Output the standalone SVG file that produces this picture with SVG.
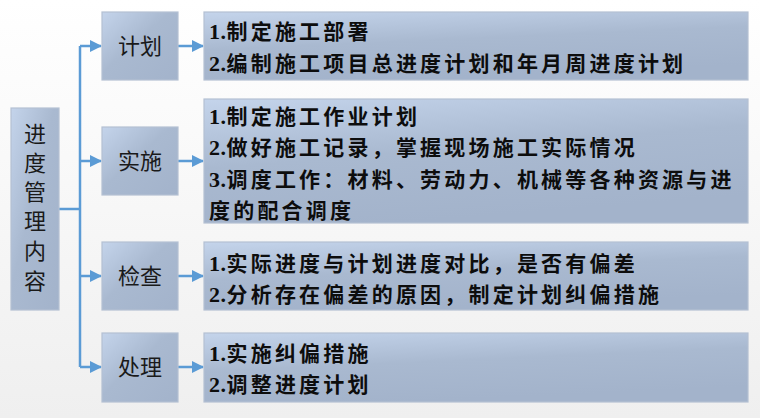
<svg xmlns="http://www.w3.org/2000/svg" width="760" height="418" viewBox="0 0 760 418">
<defs>
<linearGradient id="bg" x1="0" y1="0" x2="0" y2="1"><stop offset="0" stop-color="#ffffff"/><stop offset="1" stop-color="#efefef"/></linearGradient>
<linearGradient id="box" x1="0" y1="0" x2="1" y2="1"><stop offset="0" stop-color="#c4d4eb"/><stop offset="0.45" stop-color="#a9b9d0"/><stop offset="1" stop-color="#a3b3cb"/></linearGradient>
<linearGradient id="wide" x1="0" y1="0" x2="0.35" y2="1"><stop offset="0" stop-color="#c4d4eb"/><stop offset="0.5" stop-color="#a9b9d0"/><stop offset="1" stop-color="#a3b3cb"/></linearGradient>
<marker id="ah" markerWidth="12" markerHeight="12" refX="11" refY="6" orient="auto" markerUnits="userSpaceOnUse"><path d="M0,0 L12,6 L0,12 Z" fill="#5b9bd5"/></marker>
<style>
.b{fill:url(#box);stroke:#b4c0d2;stroke-width:1.2}
.w{fill:url(#wide);stroke:#b4c0d2;stroke-width:1.2}
.c{fill:none;stroke:#5b9bd5;stroke-width:2.5}
.t{font-family:"Liberation Serif","Noto Sans CJK SC",serif;font-size:21px;font-weight:bold;fill:#0d0d0d;letter-spacing:3.2px}
.n{letter-spacing:0.5px;font-size:22px}
.m{font-family:"Noto Sans CJK SC",serif;font-size:22px;fill:#1a1a1a;text-anchor:middle}
</style>
</defs>
<rect width="760" height="418" fill="url(#bg)"/>
<g id="connectors">
<path class="c" d="M59,209 H80"/>
<path class="c" d="M80,46 V367"/>
<path class="c" d="M80,46 H101" marker-end="url(#ah)"/>
<path class="c" d="M80,161 H101" marker-end="url(#ah)"/>
<path class="c" d="M80,276 H101" marker-end="url(#ah)"/>
<path class="c" d="M80,367 H101" marker-end="url(#ah)"/>
<path class="c" d="M178,46 H203" marker-end="url(#ah)"/>
<path class="c" d="M178,161 H203" marker-end="url(#ah)"/>
<path class="c" d="M178,276 H203" marker-end="url(#ah)"/>
<path class="c" d="M178,367 H203" marker-end="url(#ah)"/>
</g>
<g id="root">
<rect class="b" x="11" y="108" width="48" height="202"/>
<text class="m" x="35" y="142">进</text>
<text class="m" x="35" y="171">度</text>
<text class="m" x="35" y="200">管</text>
<text class="m" x="35" y="229">理</text>
<text class="m" x="35" y="259">内</text>
<text class="m" x="35" y="289">容</text>
</g>
<g id="plan">
<rect class="b" x="102" y="12" width="76" height="68"/>
<text class="m" x="140" y="54">计划</text>
</g>
<g id="implement">
<rect class="b" x="102" y="127" width="76" height="68"/>
<text class="m" x="140" y="169">实施</text>
</g>
<g id="check">
<rect class="b" x="102" y="242" width="76" height="68"/>
<text class="m" x="140" y="284">检查</text>
</g>
<g id="handle">
<rect class="b" x="102" y="333" width="76" height="69"/>
<text class="m" x="140" y="375">处理</text>
</g>
<g id="plan-detail">
<rect class="w" x="204" y="12" width="544" height="68"/>
<text class="t" x="209" y="39"><tspan class="n">1.</tspan>制定施工部署</text>
<text class="t" x="209" y="71"><tspan class="n">2.</tspan>编制施工项目总进度计划和年月周进度计划</text>
</g>
<g id="implement-detail">
<rect class="w" x="204" y="99" width="544" height="124"/>
<text class="t" x="209" y="124"><tspan class="n">1.</tspan>制定施工作业计划</text>
<text class="t" x="209" y="155"><tspan class="n">2.</tspan>做好施工记录，掌握现场施工实际情况</text>
<text class="t" x="209" y="187"><tspan class="n">3.</tspan>调度工作：材料、劳动力、机械等各种资源与进</text>
<text class="t" x="209" y="218">度的配合调度</text>
</g>
<g id="check-detail">
<rect class="w" x="204" y="242" width="544" height="68"/>
<text class="t" x="209" y="271"><tspan class="n">1.</tspan>实际进度与计划进度对比，是否有偏差</text>
<text class="t" x="209" y="302"><tspan class="n">2.</tspan>分析存在偏差的原因，制定计划纠偏措施</text>
</g>
<g id="handle-detail">
<rect class="w" x="204" y="333" width="544" height="69"/>
<text class="t" x="209" y="361"><tspan class="n">1.</tspan>实施纠偏措施</text>
<text class="t" x="209" y="392"><tspan class="n">2.</tspan>调整进度计划</text>
</g>
</svg>
